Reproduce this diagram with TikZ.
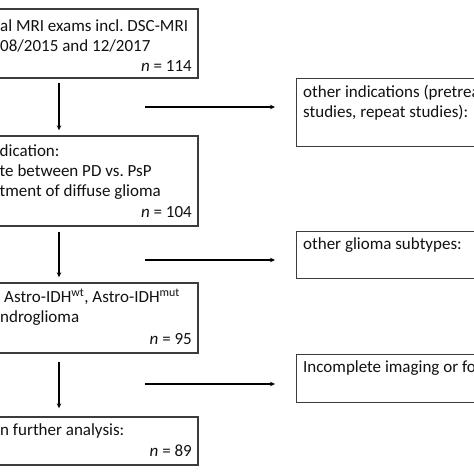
\documentclass[tikz,border=0pt]{standalone}
\usepackage{fontspec}
\setmainfont{Carlito}
\usetikzlibrary{positioning,arrows.meta}
\definecolor{BoxLine}{HTML}{3C3C3C}
\definecolor{FlowText}{HTML}{111111}
\frenchspacing

\begin{document}
\begin{tikzpicture}[x=1pt,y=-1pt,font=\fontsize{17pt}{20pt}\selectfont,
    lbox/.style={rectangle,draw=BoxLine,line width=1.4pt,minimum width=278pt,inner sep=0pt},
    rbox/.style={rectangle,draw=BoxLine,line width=1.4pt,minimum width=220pt,anchor=north west,inner sep=0pt},
    txt/.style={anchor=west,align=left,inner sep=0pt,text=FlowText},
    cnt/.style={anchor=east,inner sep=0pt,text=FlowText},
    arr/.style={-{Stealth[length=5pt,width=4.5pt]},line width=1.2pt,color=black}]
    \clip (0,0) rectangle (474,474);
    % main column
    \node[lbox,minimum height=69pt] (b1) at (59,43.5) {};
    \node[lbox,minimum height=90pt] (b2) at (59,181) {};
    \node[lbox,minimum height=70pt] (b3) at (59,318) {};
    \node[lbox,minimum height=48pt] (b4) at (59,441) {};
    \node[txt] (t1) at (0,36) {al MRI exams incl. DSC-MRI\\08/2015 and 12/2017};
    \node[cnt] (n1) at (192,66) {\textit{n} = 114};
    \node[txt] (t2) at (-0.5,172) {dication:\\te between PD vs. PsP\\tment of diffuse glioma};
    \node[cnt] (n2) at (192,212) {\textit{n} = 104};
    \node[txt] (t3) at (0,307.5) {\hspace*{4pt}Astro-IDH\textsuperscript{wt}, Astro-IDH\textsuperscript{mut}\\ndroglioma};
    \node[cnt] (n3) at (192,339) {\textit{n} = 95};
    \node[txt] (t4) at (0,431) {n further analysis:};
    \node[cnt] (n4) at (192,451) {\textit{n} = 89};
    % excluded column
    \node[rbox,minimum height=68pt] (r1) at (296,78) {};
    \node[rbox,minimum height=47pt] (r2) at (296,231) {};
    \node[rbox,minimum height=48pt] (r3) at (296,354) {};
    \node[txt] (s1) at (303,103) {other indications (pretreatment\\studies, repeat studies):};
    \node[txt] (s2) at (303,245) {other glioma subtypes:};
    \node[txt] (s3) at (303,368) {Incomplete imaging or follow-up};
    % connectors
    \draw[arr,shorten <=4pt,shorten >=5pt] (b1) -- (b2);
    \draw[arr,shorten <=5pt,shorten >=5pt] (b2) -- (b3);
    \draw[arr,shorten <=8pt,shorten >=8pt] (b3) -- (b4);
    \coordinate (h1) at (145,107);
    \coordinate (h2) at (145,260);
    \coordinate (h3) at (145,384);
    \draw[arr,shorten >=21pt] (h1) -- (h1 -| r1.west);
    \draw[arr,shorten >=21pt] (h2) -- (h2 -| r2.west);
    \draw[arr,shorten >=21pt] (h3) -- (h3 -| r3.west);
\end{tikzpicture}
\end{document}
